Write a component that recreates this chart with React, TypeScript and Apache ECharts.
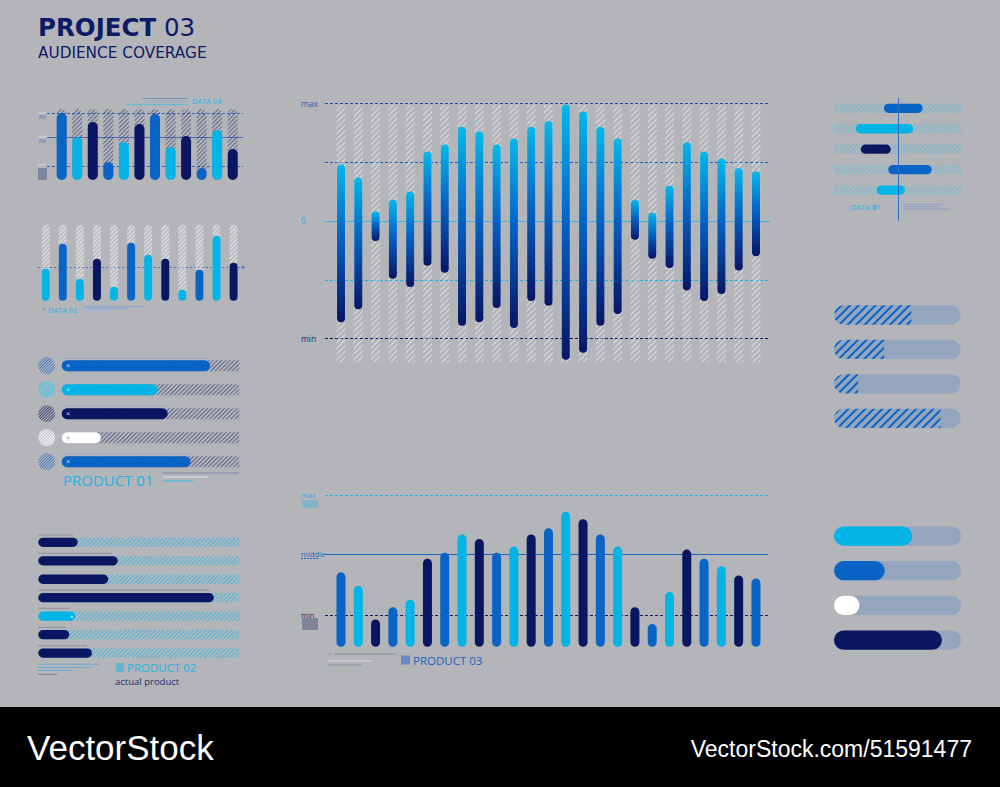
import React, { useEffect, useRef } from "react";
import * as echarts from "echarts";

const NAVY = "#0a1662";
const MED = "#0964c6";
const CYAN = "#02b5e6";
const WHITE = "#ffffff";
const BG = "#b4b5b9";
const TRACK = "#93a6bd";
const PALETTE: Record<string, string> = { navy: NAVY, med: MED, cyan: CYAN, white: WHITE };

// DATA 04 (top-left columns)
const data04Values = [67, 43, 58, 18, 38, 56, 66, 33, 44, 12, 50, 31];
const data04Colors = ["med", "cyan", "navy", "med", "cyan", "navy", "med", "cyan", "navy", "med", "cyan", "navy"];
const data04Full = 71;
const data04RefValues = [67, 43, 14];
const data04RefNames = ["max", "middle", "min"];

// DATA 02
const data02Values = [32, 57, 22, 42, 14, 58, 46, 42, 11, 31, 65, 38];
const data02Colors = ["cyan", "med", "cyan", "navy", "cyan", "med", "cyan", "navy", "cyan", "med", "cyan", "navy"];
const data02Full = 76;
const data02Ref = 33.4;

// PRODUCT 01
const product01Rows = ["p1", "p2", "p3", "p4", "p5"];
const product01Values = [83.5, 54, 59.7, 22, 72.6];
const product01Colors = ["med", "cyan", "navy", "white", "med"];

// PRODUCT 02
const product02Rows = ["q1", "q2", "q3", "q4", "q5", "q6", "q7"];
const product02Values = [19.6, 39.5, 34.8, 87.3, 18.3, 15.4, 26.7];
const product02Colors = ["navy", "navy", "navy", "navy", "cyan", "navy", "navy"];

// MAIN (range bars)
const mainHigh = [48, 37, 8, 18, 25, 59, 65, 80, 76, 65, 70, 80, 85, 99, 93, 80, 70, 18, 7, 30, 67, 59, 53, 45, 42];
const mainLow = [-86, -75, -17, -49, -56, -38, -44, -89, -86, -74, -91, -68, -72, -118, -112, -89, -79, -16, -32, -40, -59, -68, -62, -42, -30];
const mainRefValues = [100, 50, 0, -50, -100];

// PRODUCT 03 (bottom columns)
const product03Values = [49, 40, 18, 26, 31, 58, 62, 74, 71, 62, 66, 74, 78, 89, 84, 74, 66, 26, 15, 36, 64, 58, 53, 47, 45];
const product03Colors = ["med", "cyan", "navy"];
const product03RefValues = [100, 61.1, 20.7];
const product03RefNames = ["max", "middle", "min"];

// DATA 01 (floating bars)
const data01Rows = ["d1", "d2", "d3", "d4", "d5", ""];
const data01Start = [39, 17, 21, 42.5, 33.5];
const data01End = [69.5, 62, 44.5, 76.5, 55.5];
const data01Colors = ["med", "cyan", "navy", "med", "cyan"];
const data01Center = 50;

// Right progress bars
const progressRows = ["r1", "r2", "r3", "r4"];
const hatchProgress = [61, 39.5, 19, 84];
const solidProgress = [61.5, 40, 20, 85];
const solidProgressColors = ["cyan", "med", "white", "navy"];

const stripe = (color: string, w: number, gap: number) => ({
  symbol: "rect",
  symbolSize: 1,
  symbolKeepAspect: false,
  dashArrayX: [1, 0],
  dashArrayY: [w, gap],
  rotation: -Math.PI / 4,
  color,
});

const ln = (x1: number, y1: number, x2: number, y2: number, stroke: string, lineWidth = 1, dash?: number[]) => ({
  type: "line",
  silent: true,
  shape: { x1, y1, x2, y2 },
  style: { stroke, lineWidth, lineDash: dash },
});
const tx = (x: number, y: number, text: string, fontSize: number, fill: string, extra: any = {}) => ({
  type: "text",
  x,
  y,
  silent: true,
  style: { text, fontSize, fill, fontFamily: "'Open Sans', sans-serif", verticalAlign: "middle", ...extra },
});
const rc = (x: number, y: number, width: number, height: number, fill: string) => ({
  type: "rect",
  silent: true,
  shape: { x, y, width, height },
  style: { fill },
});

const hidden = { show: false };
const noRefLabel = { show: false };

export default function App() {
  const ref = useRef<HTMLDivElement>(null);
  useEffect(() => {
    if (!ref.current) return;
    const chart = echarts.init(ref.current, undefined, { renderer: "svg" });

    const gridBoxes = [
      { left: 47, top: 109, width: 196, height: 71 },
      { left: 38, top: 224.7, width: 205, height: 76 },
      { left: 43.94, top: 353.7, width: 195.36, height: 120 },
      { left: 38.3, top: 533.1, width: 201, height: 129.2 },
      { left: 325, top: 103.3, width: 445, height: 258.9 },
      { left: 325, top: 495, width: 443, height: 151.7 },
      { left: 834, top: 98.1, width: 127.7, height: 122.6 },
      { left: 834, top: 297.8, width: 126.7, height: 137.7 },
      { left: 834, top: 518.7, width: 127, height: 138.7 },
    ];
    const grids = gridBoxes.map((g) => ({ ...g, show: false, containLabel: false, outerBoundsMode: "none" }));

    const xAxes = [
      { gridIndex: 0, type: "value", min: -0.945, max: 11.66, show: false },
      { gridIndex: 1, type: "value", min: -0.45, max: 11.55, show: false },
      { gridIndex: 2, type: "value", min: -10, max: 100, show: false },
      { gridIndex: 3, type: "value", min: 0, max: 100, show: false },
      { gridIndex: 4, type: "value", min: -0.925, max: 24.81, show: false },
      { gridIndex: 5, type: "value", min: -0.925, max: 24.697, show: false },
      { gridIndex: 6, type: "value", min: 0, max: 100, show: false },
      { gridIndex: 7, type: "value", min: 0, max: 100, show: false },
      { gridIndex: 8, type: "value", min: 0, max: 100, show: false },
    ];

    const mainLabelColor = (v: any) => {
      const n = Number(v);
      if (n === 0) return "#27ace0";
      if (n < 0) return "#1c2a72";
      return "#3558a8";
    };
    const p03LabelColors = ["#22b0e0", "#1a66c6", "#1a2566"];

    const yAxes = [
      { gridIndex: 0, type: "value", min: 0, max: data04Full, show: false },
      { gridIndex: 1, type: "value", min: 0, max: data02Full, show: false },
      { gridIndex: 2, type: "category", data: product01Rows, inverse: true, show: false },
      { gridIndex: 3, type: "category", data: product02Rows, inverse: true, show: false },
      {
        gridIndex: 4,
        type: "value",
        min: -120,
        max: 100,
        show: true,
        axisLine: hidden,
        axisTick: hidden,
        splitLine: hidden,
        axisLabel: {
          customValues: [100, 0, -100],
          formatter: (v: number) => (v === 100 ? "max" : v === -100 ? "min" : v === 0 ? "0" : ""),
          align: "left",
          margin: 24,
          fontSize: 8.5,
          fontFamily: "'Open Sans', sans-serif",
          color: mainLabelColor,
        },
      },
      { gridIndex: 4, type: "value", min: 0, max: 1, show: false },
      {
        gridIndex: 5,
        type: "value",
        min: 0,
        max: 100,
        show: true,
        axisLine: hidden,
        axisTick: hidden,
        splitLine: hidden,
        axisLabel: {
          customValues: product03RefValues,
          formatter: (v: number) => {
            const i = product03RefValues.indexOf(v);
            return i >= 0 ? product03RefNames[i] : "";
          },
          align: "left",
          margin: 24,
          fontSize: 7.5,
          fontFamily: "'Open Sans', sans-serif",
          color: (v: any) => {
            const i = product03RefValues.indexOf(Number(v));
            return p03LabelColors[i >= 0 ? i : 0];
          },
        },
      },
      { gridIndex: 6, type: "category", data: data01Rows, inverse: true, show: false },
      { gridIndex: 7, type: "category", data: progressRows, inverse: true, show: false },
      { gridIndex: 8, type: "category", data: progressRows, inverse: true, show: false },
    ];

    const mainGradient = new echarts.graphic.LinearGradient(0, 0, 0, 1, [
      { offset: 0, color: "#06b8ea" },
      { offset: 0.45, color: "#0464c6" },
      { offset: 1, color: "#071566" },
    ]);

    const circleStripe = (c: string) =>
      c === "white"
        ? "rgba(248,248,252,0.95)"
        : c === "cyan"
        ? "rgba(40,185,230,0.85)"
        : c === "navy"
        ? "rgba(25,35,95,0.8)"
        : "rgba(35,95,185,0.75)";

    const p01Box = gridBoxes[2];
    const p01Band = p01Box.height / product01Rows.length;
    const circleSeries = product01Colors.map((c, i) => ({
      type: "pie",
      silent: true,
      radius: 8.5,
      center: [p01Box.left + (p01Box.width * (-8.45 - -10)) / 110, p01Box.top + p01Band * (i + 0.5)],
      label: { show: false },
      labelLine: { show: false },
      emphasis: { disabled: true },
      data: [
        {
          value: 1,
          name: product01Rows[i],
          itemStyle: { color: "rgba(255,255,255,0.12)", borderWidth: 0, decal: stripe(circleStripe(c), 1, 1) },
        },
      ],
      z: 3,
    }));

    const series: any[] = [
      // DATA 04
      {
        type: "bar",
        xAxisIndex: 0,
        yAxisIndex: 0,
        silent: true,
        barWidth: 10,
        barGap: "-100%",
        data: data04Values.map((_, i) => [i, data04Full]),
        itemStyle: { color: "rgba(0,0,0,0)", borderRadius: 5, decal: stripe("rgba(38,52,112,0.6)", 1, 2) },
        z: 2,
      },
      {
        type: "bar",
        xAxisIndex: 0,
        yAxisIndex: 0,
        silent: true,
        barWidth: 10,
        barGap: "-100%",
        data: data04Values.map((v, i) => ({ value: [i, v], itemStyle: { color: PALETTE[data04Colors[i]] } })),
        itemStyle: { borderRadius: 5 },
        z: 3,
        markLine: {
          silent: true,
          symbol: ["none", "none"],
          z: 1,
          label: noRefLabel,
          data: data04RefValues.map((v, i) => ({
            yAxis: v,
            name: data04RefNames[i],
            lineStyle: { color: i === 1 ? "#4a68b0" : "#3563b5", width: 1, type: i === 1 ? "solid" : [3, 2] },
          })),
        },
      },
      // DATA 02
      {
        type: "bar",
        xAxisIndex: 1,
        yAxisIndex: 1,
        silent: true,
        barWidth: 8,
        barGap: "-100%",
        data: data02Values.map((_, i) => [i, data02Full]),
        itemStyle: { color: "rgba(255,255,255,0.12)", borderRadius: 4, decal: stripe("rgba(255,255,255,0.55)", 1, 2) },
        z: 2,
      },
      {
        type: "bar",
        xAxisIndex: 1,
        yAxisIndex: 1,
        silent: true,
        barWidth: 8,
        barGap: "-100%",
        data: data02Values.map((v, i) => ({ value: [i, v], itemStyle: { color: PALETTE[data02Colors[i]] } })),
        itemStyle: { borderRadius: 4 },
        z: 3,
        markLine: {
          silent: true,
          symbol: ["none", "circle"],
          symbolSize: 3,
          z: 1,
          label: noRefLabel,
          data: [{ yAxis: data02Ref, lineStyle: { color: "#4a78c0", width: 1, type: [2, 2] } }],
        },
      },
      // PRODUCT 01
      {
        type: "bar",
        xAxisIndex: 2,
        yAxisIndex: 2,
        silent: true,
        barWidth: 11,
        barGap: "-100%",
        data: product01Rows.map(() => 100),
        itemStyle: { color: "rgba(0,0,0,0)", borderRadius: [5.5, 0, 0, 5.5], decal: stripe("rgba(45,55,115,0.65)", 1, 2) },
        z: 2,
      },
      {
        type: "bar",
        xAxisIndex: 2,
        yAxisIndex: 2,
        silent: true,
        barWidth: 11,
        barGap: "-100%",
        data: product01Values.map((v, i) => ({
          value: v,
          itemStyle: { color: PALETTE[product01Colors[i]] },
          label: { color: product01Colors[i] === "white" ? "#9aa0b0" : "rgba(220,228,245,0.85)" },
        })),
        itemStyle: { borderRadius: 5.5 },
        label: { show: true, position: "insideLeft", distance: 4, formatter: "×", fontSize: 8 },
        z: 3,
      },
      ...circleSeries,
      // PRODUCT 02
      {
        type: "bar",
        xAxisIndex: 3,
        yAxisIndex: 3,
        silent: true,
        barWidth: 9.3,
        barGap: "-100%",
        data: product02Rows.map(() => 100),
        itemStyle: { color: "rgba(0,0,0,0)", borderRadius: [4.6, 0, 0, 4.6], decal: stripe("rgba(40,185,230,0.8)", 1, 2) },
        z: 2,
      },
      {
        type: "bar",
        xAxisIndex: 3,
        yAxisIndex: 3,
        silent: true,
        barWidth: 9.3,
        barGap: "-100%",
        data: product02Values.map((v, i) => ({
          value: v,
          itemStyle: { color: PALETTE[product02Colors[i]] },
          label: product02Colors[i] === "cyan" ? { show: true } : { show: false },
        })),
        itemStyle: { borderRadius: 4.65 },
        label: { position: "insideRight", distance: 2, formatter: "●", fontSize: 5, color: "rgba(235,240,250,0.9)" },
        z: 3,
      },
      // MAIN hatch columns
      {
        type: "bar",
        xAxisIndex: 4,
        yAxisIndex: 5,
        silent: true,
        barWidth: 9,
        data: mainHigh.map((_, i) => [i, 0.9934]),
        itemStyle: { color: "rgba(0,0,0,0)", decal: stripe("rgba(232,234,240,0.75)", 1, 3) },
        z: 2,
      },
      // MAIN range bars
      {
        type: "custom",
        xAxisIndex: 4,
        yAxisIndex: 4,
        silent: true,
        encode: { x: 0, y: [1, 2] },
        data: mainHigh.map((h, i) => [i, mainLow[i], h]),
        renderItem: (params: any, api: any) => {
          const x = api.value(0);
          const lo = api.value(1);
          const hi = api.value(2);
          const top = api.coord([x, hi]);
          const bot = api.coord([x, lo]);
          const w = 8;
          return {
            type: "rect",
            shape: { x: top[0] - w / 2, y: top[1], width: w, height: bot[1] - top[1], r: w / 2 },
            style: { fill: mainGradient },
          };
        },
        z: 3,
        markLine: {
          silent: true,
          symbol: ["none", "none"],
          z: 1,
          label: noRefLabel,
          data: mainRefValues.map((v) => ({
            yAxis: v,
            lineStyle:
              v === 100
                ? { color: "#1d4ea6", width: 1, type: [3, 2] }
                : v === 50
                ? { color: "#0f62c6", width: 1, type: [3, 2] }
                : v === 0
                ? { color: "#36b6e6", width: 1, type: "solid" }
                : v === -50
                ? { color: "#19b2e6", width: 1, type: [3, 2] }
                : { color: "#101c62", width: 1, type: [3, 2] },
          })),
        },
      },
      // PRODUCT 03
      {
        type: "bar",
        xAxisIndex: 5,
        yAxisIndex: 6,
        silent: true,
        barWidth: 9,
        data: product03Values.map((v, i) => ({ value: [i, v], itemStyle: { color: PALETTE[product03Colors[i % 3]] } })),
        itemStyle: { borderRadius: 4.5 },
        z: 3,
        markLine: {
          silent: true,
          symbol: ["none", "none"],
          z: 1,
          label: noRefLabel,
          data: product03RefValues.map((v, i) => ({
            yAxis: v,
            lineStyle:
              i === 0
                ? { color: "#27b2e4", width: 1, type: [3, 2] }
                : i === 1
                ? { color: "#1566c6", width: 1, type: "solid" }
                : { color: "#101c5e", width: 1, type: [3, 2] },
          })),
        },
      },
      // DATA 01
      {
        type: "bar",
        xAxisIndex: 6,
        yAxisIndex: 7,
        silent: true,
        barWidth: 9.3,
        barGap: "-100%",
        data: data01Start.map(() => 100),
        itemStyle: { color: "rgba(0,0,0,0)", decal: stripe("rgba(70,185,225,0.6)", 1, 2) },
        z: 2,
        markLine: {
          silent: true,
          symbol: ["none", "none"],
          z: 4,
          label: noRefLabel,
          data: [{ xAxis: data01Center, lineStyle: { color: "#2a6cc4", width: 1, type: "solid" } }],
        },
      },
      {
        type: "bar",
        xAxisIndex: 6,
        yAxisIndex: 7,
        silent: true,
        stack: "d01",
        barWidth: 9.3,
        barGap: "-100%",
        data: data01Start,
        itemStyle: { color: "rgba(0,0,0,0)" },
        z: 3,
      },
      {
        type: "bar",
        xAxisIndex: 6,
        yAxisIndex: 7,
        silent: true,
        stack: "d01",
        barWidth: 9.3,
        barGap: "-100%",
        data: data01End.map((e, i) => ({ value: e - data01Start[i], itemStyle: { color: PALETTE[data01Colors[i]] } })),
        itemStyle: { borderRadius: 4.65 },
        z: 3,
      },
      // Right hatch progress
      {
        type: "bar",
        xAxisIndex: 7,
        yAxisIndex: 8,
        silent: true,
        barWidth: 19.3,
        barGap: "-100%",
        data: progressRows.map(() => 100),
        itemStyle: { color: TRACK, borderRadius: 9.65 },
        z: 2,
      },
      {
        type: "bar",
        xAxisIndex: 7,
        yAxisIndex: 8,
        silent: true,
        barWidth: 19.3,
        barGap: "-100%",
        data: hatchProgress,
        itemStyle: { color: "rgba(0,0,0,0)", borderRadius: [9.65, 0, 0, 9.65], decal: stripe(MED, 2, 4) },
        z: 3,
      },
      // Right solid progress
      {
        type: "bar",
        xAxisIndex: 8,
        yAxisIndex: 9,
        silent: true,
        barWidth: 19.3,
        barGap: "-100%",
        data: progressRows.map(() => 100),
        itemStyle: { color: TRACK, borderRadius: 9.65 },
        z: 2,
      },
      {
        type: "bar",
        xAxisIndex: 8,
        yAxisIndex: 9,
        silent: true,
        barWidth: 19.3,
        barGap: "-100%",
        data: solidProgress.map((v, i) => ({ value: v, itemStyle: { color: PALETTE[solidProgressColors[i]] } })),
        itemStyle: { borderRadius: 9.65 },
        z: 3,
      },
    ];

    const titleFont = "'DejaVu Sans', sans-serif";
    const graphic: any[] = [
      // title
      {
        type: "text",
        x: 38,
        y: 27.5,
        silent: true,
        style: {
          text: "{b|PROJECT}{l| 03}",
          verticalAlign: "middle",
          rich: {
            b: { fontSize: 24.5, fontWeight: 700, fill: "#0d1a66", color: "#0d1a66", fontFamily: titleFont },
            l: { fontSize: 24.5, fontWeight: 400, fill: "#0d1a66", color: "#0d1a66", fontFamily: titleFont },
          },
        },
      },
      tx(38, 53, "AUDIENCE COVERAGE", 15.3, "#0d1a66", { fontFamily: titleFont }),
      // DATA 04 decorations
      tx(192, 101, "DATA 04", 7.5, "#2cb3e3"),
      ln(142, 98.5, 188, 98.5, "#7d8fb8"),
      ln(147, 101, 188, 101, "#9aa8c8"),
      ln(126, 104.3, 188, 104.3, "#4dbbe0"),
      tx(38, 112, "max", 4, "rgba(225,232,245,0.9)"),
      rc(39, 115, 7, 4, "rgba(90,130,200,0.45)"),
      tx(38, 136, "middle", 4, "rgba(225,232,245,0.9)"),
      rc(39, 139, 7, 4, "rgba(90,130,200,0.45)"),
      tx(38, 164, "min", 4, "rgba(225,232,245,0.9)"),
      rc(38, 168, 9, 12, "rgba(60,75,130,0.45)"),
      // DATA 02 decorations
      rc(43, 307.5, 2.5, 2.5, "rgba(60,170,220,0.7)"),
      tx(48, 309.5, "DATA 02", 7.5, "#2cb3e3"),
      ln(83, 306.7, 143, 306.7, "#7fa0d0"),
      ln(83, 308.7, 130, 308.7, "#8fb0d8"),
      ln(83, 310.7, 112, 310.7, "#a0b8e0"),
      // PRODUCT 01 decorations
      ln(62, 358.3, 208, 358.3, "rgba(140,160,205,0.7)"),
      ln(62, 405.7, 168, 405.7, "rgba(140,160,205,0.7)"),
      ln(62, 454, 190, 454, "rgba(140,160,205,0.7)"),
      tx(63, 479.5, "PRODUCT 01", 15, "#1fb2e4"),
      ln(163, 473, 239, 473, "#8088a8", 1.2),
      ln(163, 477, 208, 477, "#dde0e8"),
      ln(163, 481, 193, 481, "#38b4e4"),
      // PRODUCT 02 decorations
      ln(38, 535, 73, 535, "rgba(125,130,150,0.7)"),
      ln(38, 553.3, 112, 553.3, "rgba(125,130,150,0.7)"),
      ln(38, 590, 210, 590, "rgba(125,130,150,0.7)"),
      ln(38, 608.3, 70, 608.3, "rgba(125,130,150,0.7)"),
      ln(38, 627.3, 66, 627.3, "rgba(125,130,150,0.7)"),
      ln(38, 645.7, 87, 645.7, "rgba(125,130,150,0.7)"),
      ln(38, 664.3, 100, 664.3, "rgba(80,170,220,0.7)"),
      ln(38, 667.5, 92, 667.5, "rgba(80,170,220,0.7)"),
      ln(38, 670.5, 73, 670.5, "rgba(80,170,220,0.7)"),
      ln(38, 674.3, 57, 674.3, "rgba(110,115,135,0.8)"),
      rc(116, 663, 8, 9, "rgba(40,180,230,0.55)"),
      tx(127, 667.5, "PRODUCT 02", 11.5, "#1fb2e4"),
      tx(115, 681, "actual product", 9.5, "#1e2a6e"),
      // PRODUCT 03 decorations
      rc(302, 500, 16, 8, "rgba(40,170,225,0.35)"),
      ln(301, 558.5, 318, 558.5, "#1a66c6", 1, [2, 1]),
      rc(302, 618, 16, 12, "rgba(30,40,100,0.35)"),
      tx(328, 654, "×", 6, "#7a80a0"),
      ln(334, 654, 397, 654, "#8a90a8"),
      ln(328, 661, 373, 661, "#d4d7de"),
      ln(328, 665, 362, 665, "#8a90a8"),
      rc(401, 655.5, 9, 9, "rgba(30,100,200,0.5)"),
      tx(413, 660.5, "PRODUCT 03", 11.5, "#1a64c0"),
      // DATA 01 decorations
      tx(851, 207.3, "DATA 01", 7.5, "#2cb3e3"),
      rc(873, 205.3, 4, 4, "rgba(60,170,220,0.6)"),
      ln(903, 204.3, 943, 204.3, "#8a9cc8"),
      ln(903, 206.7, 940, 206.7, "#8a9cc8"),
      ln(903, 209, 950, 209, "#8a9cc8"),
      // footer
      rc(0, 707, 1000, 80, "#000000"),
      {
        type: "text",
        x: 27,
        y: 747,
        silent: true,
        style: { text: "VectorStock", fontSize: 35, fill: "#ffffff", fontFamily: "'Liberation Sans', Arial, sans-serif", verticalAlign: "middle" },
      },
      {
        type: "text",
        x: 972,
        y: 749,
        silent: true,
        style: {
          text: "VectorStock.com/51591477",
          fontSize: 23,
          fill: "#ffffff",
          fontFamily: "'Liberation Sans', Arial, sans-serif",
          verticalAlign: "middle",
          align: "right",
        },
      },
    ];

    chart.setOption({
      animation: false,
      backgroundColor: BG,
      grid: grids,
      xAxis: xAxes,
      yAxis: yAxes,
      series,
      graphic,
    });
    return () => chart.dispose();
  }, []);
  return <div ref={ref} style={{ position: "fixed", left: 0, top: 0, width: 1000, height: 787 }} />;
}
